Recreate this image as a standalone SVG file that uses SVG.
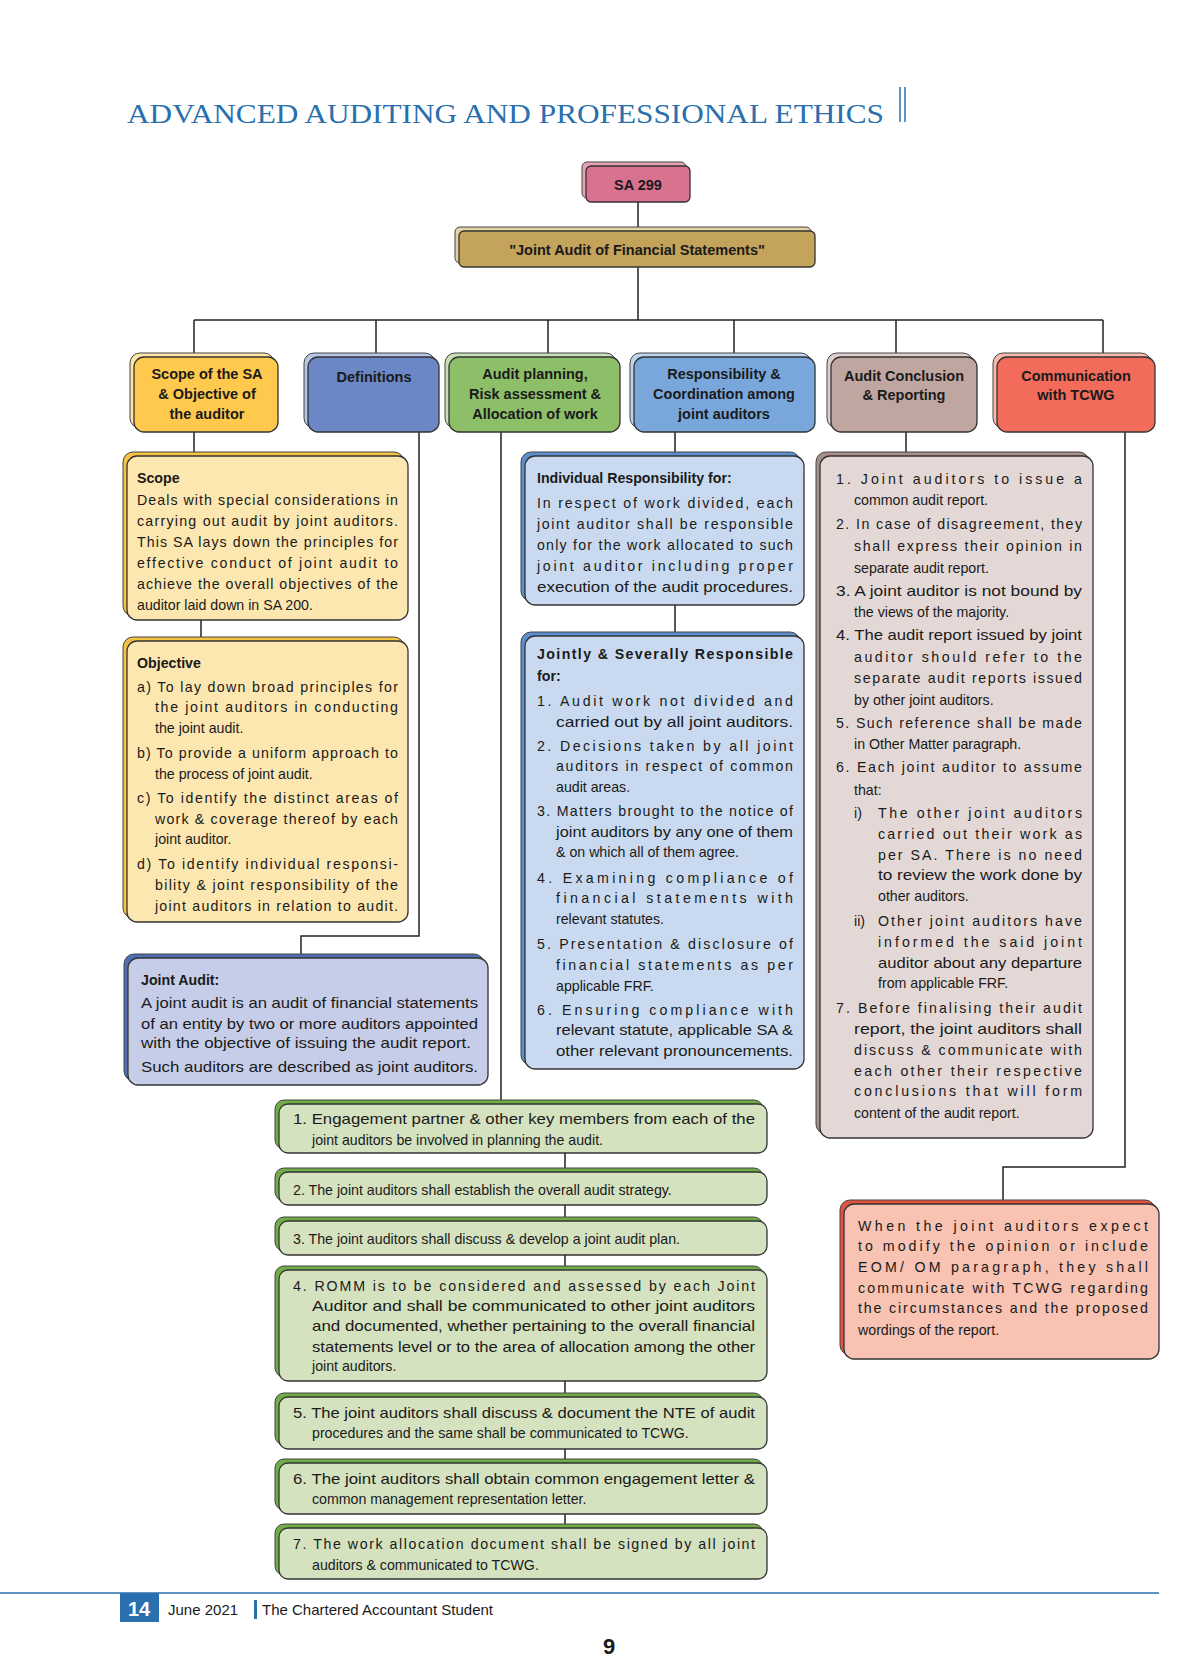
<svg xmlns="http://www.w3.org/2000/svg" width="1200" height="1680" viewBox="0 0 1200 1680">
<style>
text{font-family:"Liberation Sans","DejaVu Sans",sans-serif;fill:#1a1a1a}
.t{font-size:14.2px}
.b{font-weight:bold}
.h{font-size:14.5px;font-weight:bold;text-anchor:middle}
.c{stroke:#222;stroke-width:1.5;fill:none}
.f{stroke:#333;stroke-width:1.3}
.bk{stroke:#444;stroke-width:1}
</style>
<rect width="1200" height="1680" fill="#fff"/>
<text x="127" y="123" font-size="28" textLength="757" lengthAdjust="spacingAndGlyphs" style="fill:#2a6fae;font-family:'Liberation Serif',serif">ADVANCED AUDITING AND PROFESSIONAL ETHICS</text>
<line x1="900" y1="87" x2="900" y2="122" stroke="#2a6fae" stroke-width="1.5"/>
<line x1="905" y1="87" x2="905" y2="122" stroke="#2a6fae" stroke-width="1.5"/>

<g id="connectors" class="c">
<path d="M638 202V231M638 267V320M194 320H1103M194 320V357M376 320V357M548 320V357M734 320V357M896 320V357M1103 320V357"/>
<path d="M194 432V456M201 620V641"/>
<path d="M419 432V936H301V958"/>
<path d="M501 432V1104M565 1153V1172M565 1205V1221M565 1255V1270M565 1381V1397M565 1449V1463M565 1514V1528"/>
<path d="M675 432V456M675 605V636"/>
<path d="M906 432V456"/>
<path d="M1125 432V1167H1003V1204"/>
</g>

<g id="sa299"><rect x="582" y="162" width="104" height="36" rx="5" fill="#e9a3b6" class="bk"/><rect x="586" y="166" width="104" height="36" rx="5" fill="#d9728f" class="f"/><text x="638" y="190" class="h" font-size="16">SA 299</text></g>
<g id="title"><rect x="455" y="227" width="356" height="36" rx="5" fill="#e4d1a6" class="bk"/><rect x="459" y="231" width="356" height="36" rx="5" fill="#c4a35a" class="f"/><text x="637" y="255" class="h" font-size="16">"Joint Audit of Financial Statements"</text></g>

<g id="n-scope-head"><rect x="130" y="353" width="144" height="75" rx="10" fill="#ffe5a8" class="bk"/><rect x="134" y="357" width="144" height="75" rx="10" fill="#ffc94d" class="f"/>
<text class="h" x="207" y="379">Scope of the SA</text><text class="h" x="207" y="399">&amp; Objective of</text><text class="h" x="207" y="419">the auditor</text></g>
<g id="n-def-head"><rect x="304" y="353" width="131" height="75" rx="10" fill="#b7c5e8" class="bk"/><rect x="308" y="357" width="131" height="75" rx="10" fill="#6b87c5" class="f"/><text class="h" x="374" y="382">Definitions</text></g>
<g id="n-plan-head"><rect x="445" y="353" width="171" height="75" rx="10" fill="#c8e0b4" class="bk"/><rect x="449" y="357" width="171" height="75" rx="10" fill="#8cbf68" class="f"/>
<text class="h" x="535" y="379">Audit planning,</text><text class="h" x="535" y="399">Risk assessment &amp;</text><text class="h" x="535" y="419">Allocation of work</text></g>
<g id="n-resp-head"><rect x="630" y="353" width="181" height="75" rx="10" fill="#bdd4ef" class="bk"/><rect x="634" y="357" width="181" height="75" rx="10" fill="#79a7db" class="f"/>
<text class="h" x="724" y="379">Responsibility &amp;</text><text class="h" x="724" y="399">Coordination among</text><text class="h" x="724" y="419">joint auditors</text></g>
<g id="n-concl-head"><rect x="827" y="353" width="146" height="75" rx="10" fill="#ddd0cc" class="bk"/><rect x="831" y="357" width="146" height="75" rx="10" fill="#bfa6a0" class="f"/>
<text class="h" x="904" y="381">Audit Conclusion</text><text class="h" x="904" y="400">&amp; Reporting</text></g>
<g id="n-comm-head"><rect x="993" y="353" width="158" height="75" rx="10" fill="#f8b9a8" class="bk"/><rect x="997" y="357" width="158" height="75" rx="10" fill="#f26b5b" class="f"/>
<text class="h" x="1076" y="381">Communication</text><text class="h" x="1076" y="400">with TCWG</text></g>

<g id="n-scope"><rect x="123" y="452" width="281" height="164" rx="10" fill="#f5c244" class="bk"/><rect x="127" y="456" width="281" height="164" rx="10" fill="#fde7b0" class="f"/>
<text class="t b" x="137" y="483">Scope</text>
<text class="t" x="137" y="505" textLength="261" lengthAdjust="spacing">Deals with special considerations in</text>
<text class="t" x="137" y="526" textLength="261" lengthAdjust="spacing">carrying out audit by joint auditors.</text>
<text class="t" x="137" y="547" textLength="261" lengthAdjust="spacing">This SA lays down the principles for</text>
<text class="t" x="137" y="568" textLength="261" lengthAdjust="spacing">effective conduct of joint audit to</text>
<text class="t" x="137" y="589" textLength="261" lengthAdjust="spacing">achieve the overall objectives of the</text>
<text class="t" x="137" y="610">auditor laid down in SA 200.</text></g>

<g id="n-objective"><rect x="123" y="637" width="281" height="281" rx="10" fill="#f5c244" class="bk"/><rect x="127" y="641" width="281" height="281" rx="10" fill="#fde7b0" class="f"/>
<text class="t b" x="137" y="668">Objective</text>
<text class="t" x="137" y="692" textLength="261" lengthAdjust="spacing">a) To lay down broad principles for</text>
<text class="t" x="155" y="712" textLength="243" lengthAdjust="spacing">the joint auditors in conducting</text>
<text class="t" x="155" y="733">the joint audit.</text>
<text class="t" x="137" y="758" textLength="261" lengthAdjust="spacing">b) To provide a uniform approach to</text>
<text class="t" x="155" y="779">the process of joint audit.</text>
<text class="t" x="137" y="803" textLength="261" lengthAdjust="spacing">c) To identify the distinct areas of</text>
<text class="t" x="155" y="824" textLength="243" lengthAdjust="spacing">work &amp; coverage thereof by each</text>
<text class="t" x="155" y="844">joint auditor.</text>
<text class="t" x="137" y="869" textLength="261" lengthAdjust="spacing">d) To identify individual responsi-</text>
<text class="t" x="155" y="890" textLength="243" lengthAdjust="spacing">bility &amp; joint responsibility of the</text>
<text class="t" x="155" y="911" textLength="243" lengthAdjust="spacing">joint auditors in relation to audit.</text></g>

<g id="n-jointaudit"><rect x="124" y="954" width="360" height="127" rx="10" fill="#4f6fb5" class="bk"/><rect x="128" y="958" width="360" height="127" rx="10" fill="#c6cde8" class="f"/>
<text class="t b" x="141" y="985">Joint Audit:</text>
<text class="t" x="141" y="1008" textLength="337" lengthAdjust="spacingAndGlyphs">A joint audit is an audit of financial statements</text>
<text class="t" x="141" y="1029" textLength="337" lengthAdjust="spacingAndGlyphs">of an entity by two or more auditors appointed</text>
<text class="t" x="141" y="1048" textLength="330" lengthAdjust="spacingAndGlyphs">with the objective of issuing the audit report.</text>
<text class="t" x="141" y="1072" textLength="337" lengthAdjust="spacingAndGlyphs">Such auditors are described as joint auditors.</text></g>

<g id="n-individual"><rect x="521" y="452" width="279" height="149" rx="10" fill="#5b8fcf" class="bk"/><rect x="525" y="456" width="279" height="149" rx="10" fill="#c9daf0" class="f"/>
<text class="t b" x="537" y="483">Individual Responsibility for:</text>
<text class="t" x="537" y="508" textLength="256" lengthAdjust="spacing">In respect of work divided, each</text>
<text class="t" x="537" y="529" textLength="256" lengthAdjust="spacing">joint auditor shall be responsible</text>
<text class="t" x="537" y="550" textLength="256" lengthAdjust="spacing">only for the work allocated to such</text>
<text class="t" x="537" y="571" textLength="256" lengthAdjust="spacing">joint auditor including proper</text>
<text class="t" x="537" y="592" textLength="256" lengthAdjust="spacingAndGlyphs">execution of the audit procedures.</text></g>

<g id="n-jointly"><rect x="521" y="632" width="279" height="433" rx="10" fill="#5b8fcf" class="bk"/><rect x="525" y="636" width="279" height="433" rx="10" fill="#c9daf0" class="f"/>
<text class="t b" x="537" y="659" textLength="256" lengthAdjust="spacing">Jointly &amp; Severally Responsible</text>
<text class="t b" x="537" y="681">for:</text>
<text class="t" x="537" y="706" textLength="256" lengthAdjust="spacing">1. Audit work not divided and</text>
<text class="t" x="556" y="727" textLength="237" lengthAdjust="spacingAndGlyphs">carried out by all joint auditors.</text>
<text class="t" x="537" y="751" textLength="256" lengthAdjust="spacing">2. Decisions taken by all joint</text>
<text class="t" x="556" y="771" textLength="237" lengthAdjust="spacing">auditors in respect of common</text>
<text class="t" x="556" y="792">audit areas.</text>
<text class="t" x="537" y="816" textLength="256" lengthAdjust="spacing">3. Matters brought to the notice of</text>
<text class="t" x="556" y="837" textLength="237" lengthAdjust="spacingAndGlyphs">joint auditors by any one of them</text>
<text class="t" x="556" y="857">&amp; on which all of them agree.</text>
<text class="t" x="537" y="883" textLength="256" lengthAdjust="spacing">4. Examining compliance of</text>
<text class="t" x="556" y="903" textLength="237" lengthAdjust="spacing">financial statements with</text>
<text class="t" x="556" y="924">relevant statutes.</text>
<text class="t" x="537" y="949" textLength="256" lengthAdjust="spacing">5. Presentation &amp; disclosure of</text>
<text class="t" x="556" y="970" textLength="237" lengthAdjust="spacing">financial statements as per</text>
<text class="t" x="556" y="991">applicable FRF.</text>
<text class="t" x="537" y="1015" textLength="256" lengthAdjust="spacing">6. Ensuring compliance with</text>
<text class="t" x="556" y="1035" textLength="237" lengthAdjust="spacingAndGlyphs">relevant statute, applicable SA &amp;</text>
<text class="t" x="556" y="1056" textLength="237" lengthAdjust="spacingAndGlyphs">other relevant pronouncements.</text></g>

<g id="n-conclusion"><rect x="816" y="452" width="273" height="682" rx="10" fill="#a88f88" class="bk"/><rect x="820" y="456" width="273" height="682" rx="10" fill="#e4d8d6" class="f"/>
<text class="t" x="836" y="484" textLength="246" lengthAdjust="spacing">1. Joint auditors to issue a</text>
<text class="t" x="854" y="505">common audit report.</text>
<text class="t" x="836" y="529" textLength="246" lengthAdjust="spacing">2. In case of disagreement, they</text>
<text class="t" x="854" y="551" textLength="228" lengthAdjust="spacing">shall express their opinion in</text>
<text class="t" x="854" y="573">separate audit report.</text>
<text class="t" x="836" y="596" textLength="246" lengthAdjust="spacingAndGlyphs">3. A joint auditor is not bound by</text>
<text class="t" x="854" y="617">the views of the majority.</text>
<text class="t" x="836" y="640" textLength="246" lengthAdjust="spacingAndGlyphs">4. The audit report issued by joint</text>
<text class="t" x="854" y="662" textLength="228" lengthAdjust="spacing">auditor should refer to the</text>
<text class="t" x="854" y="683" textLength="228" lengthAdjust="spacing">separate audit reports issued</text>
<text class="t" x="854" y="705">by other joint auditors.</text>
<text class="t" x="836" y="728" textLength="246" lengthAdjust="spacing">5. Such reference shall be made</text>
<text class="t" x="854" y="749">in Other Matter paragraph.</text>
<text class="t" x="836" y="772" textLength="246" lengthAdjust="spacing">6. Each joint auditor to assume</text>
<text class="t" x="854" y="795">that:</text>
<text class="t" x="854" y="818">i)</text>
<text class="t" x="878" y="818" textLength="204" lengthAdjust="spacing">The other joint auditors</text>
<text class="t" x="878" y="839" textLength="204" lengthAdjust="spacing">carried out their work as</text>
<text class="t" x="878" y="860" textLength="204" lengthAdjust="spacing">per SA. There is no need</text>
<text class="t" x="878" y="880" textLength="204" lengthAdjust="spacingAndGlyphs">to review the work done by</text>
<text class="t" x="878" y="901">other auditors.</text>
<text class="t" x="854" y="926">ii)</text>
<text class="t" x="878" y="926" textLength="204" lengthAdjust="spacing">Other joint auditors have</text>
<text class="t" x="878" y="947" textLength="204" lengthAdjust="spacing">informed the said joint</text>
<text class="t" x="878" y="968" textLength="204" lengthAdjust="spacingAndGlyphs">auditor about any departure</text>
<text class="t" x="878" y="988">from applicable FRF.</text>
<text class="t" x="836" y="1013" textLength="246" lengthAdjust="spacing">7. Before finalising their audit</text>
<text class="t" x="854" y="1034" textLength="228" lengthAdjust="spacingAndGlyphs">report, the joint auditors shall</text>
<text class="t" x="854" y="1055" textLength="228" lengthAdjust="spacing">discuss &amp; communicate with</text>
<text class="t" x="854" y="1076" textLength="228" lengthAdjust="spacing">each other their respective</text>
<text class="t" x="854" y="1096" textLength="228" lengthAdjust="spacing">conclusions that will form</text>
<text class="t" x="854" y="1118">content of the audit report.</text></g>

<g id="n-tcwg"><rect x="840" y="1200" width="315" height="155" rx="10" fill="#e0533f" class="bk"/><rect x="844" y="1204" width="315" height="155" rx="10" fill="#f8c3b3" class="f"/>
<text class="t" x="858" y="1231" textLength="290" lengthAdjust="spacing">When the joint auditors expect</text>
<text class="t" x="858" y="1251" textLength="290" lengthAdjust="spacing">to modify the opinion or include</text>
<text class="t" x="858" y="1272" textLength="290" lengthAdjust="spacing">EOM/ OM paragraph, they shall</text>
<text class="t" x="858" y="1293" textLength="290" lengthAdjust="spacing">communicate with TCWG regarding</text>
<text class="t" x="858" y="1313" textLength="290" lengthAdjust="spacing">the circumstances and the proposed</text>
<text class="t" x="858" y="1335">wordings of the report.</text></g>

<g id="n-p1"><rect x="275" y="1100" width="488" height="49" rx="9" fill="#70ad47" class="bk"/><rect x="279" y="1104" width="488" height="49" rx="9" fill="#d5e2bf" class="f"/>
<text class="t" x="293" y="1124" textLength="462" lengthAdjust="spacingAndGlyphs">1. Engagement partner &amp; other key members from each of the</text>
<text class="t" x="312" y="1145">joint auditors be involved in planning the audit.</text></g>
<g id="n-p2"><rect x="275" y="1168" width="488" height="33" rx="9" fill="#70ad47" class="bk"/><rect x="279" y="1172" width="488" height="33" rx="9" fill="#d5e2bf" class="f"/>
<text class="t" x="293" y="1195">2. The joint auditors shall establish the overall audit strategy.</text></g>
<g id="n-p3"><rect x="275" y="1217" width="488" height="34" rx="9" fill="#70ad47" class="bk"/><rect x="279" y="1221" width="488" height="34" rx="9" fill="#d5e2bf" class="f"/>
<text class="t" x="293" y="1244">3. The joint auditors shall discuss &amp; develop a joint audit plan.</text></g>
<g id="n-p4"><rect x="275" y="1266" width="488" height="111" rx="9" fill="#70ad47" class="bk"/><rect x="279" y="1270" width="488" height="111" rx="9" fill="#d5e2bf" class="f"/>
<text class="t" x="293" y="1291" textLength="462" lengthAdjust="spacing">4. ROMM is to be considered and assessed by each Joint</text>
<text class="t" x="312" y="1311" textLength="443" lengthAdjust="spacingAndGlyphs">Auditor and shall be communicated to other joint auditors</text>
<text class="t" x="312" y="1331" textLength="443" lengthAdjust="spacingAndGlyphs">and documented, whether pertaining to the overall financial</text>
<text class="t" x="312" y="1352" textLength="443" lengthAdjust="spacingAndGlyphs">statements level or to the area of allocation among the other</text>
<text class="t" x="312" y="1371">joint auditors.</text></g>
<g id="n-p5"><rect x="275" y="1393" width="488" height="52" rx="9" fill="#70ad47" class="bk"/><rect x="279" y="1397" width="488" height="52" rx="9" fill="#d5e2bf" class="f"/>
<text class="t" x="293" y="1418" textLength="462" lengthAdjust="spacingAndGlyphs">5. The joint auditors shall discuss &amp; document the NTE of audit</text>
<text class="t" x="312" y="1438">procedures and the same shall be communicated to TCWG.</text></g>
<g id="n-p6"><rect x="275" y="1459" width="488" height="51" rx="9" fill="#70ad47" class="bk"/><rect x="279" y="1463" width="488" height="51" rx="9" fill="#d5e2bf" class="f"/>
<text class="t" x="293" y="1484" textLength="462" lengthAdjust="spacingAndGlyphs">6. The joint auditors shall obtain common engagement letter &amp;</text>
<text class="t" x="312" y="1504">common management representation letter.</text></g>
<g id="n-p7"><rect x="275" y="1524" width="488" height="51" rx="9" fill="#70ad47" class="bk"/><rect x="279" y="1528" width="488" height="51" rx="9" fill="#d5e2bf" class="f"/>
<text class="t" x="293" y="1549" textLength="462" lengthAdjust="spacing">7. The work allocation document shall be signed by all joint</text>
<text class="t" x="312" y="1570">auditors &amp; communicated to TCWG.</text></g>

<line x1="0" y1="1593" x2="1159" y2="1593" stroke="#2a6fae" stroke-width="1.5"/>
<rect x="120" y="1593" width="39" height="29" fill="#2a6fae"/>
<text x="139" y="1616" font-size="20" font-weight="bold" text-anchor="middle" style="fill:#fff">14</text>
<text x="168" y="1615" font-size="15">June 2021</text>
<rect x="254" y="1600" width="3" height="19" fill="#2a6fae"/>
<text x="262" y="1615" font-size="15">The Chartered Accountant Student</text>
<text x="609" y="1654" font-size="22" font-weight="bold" text-anchor="middle">9</text>
</svg>
